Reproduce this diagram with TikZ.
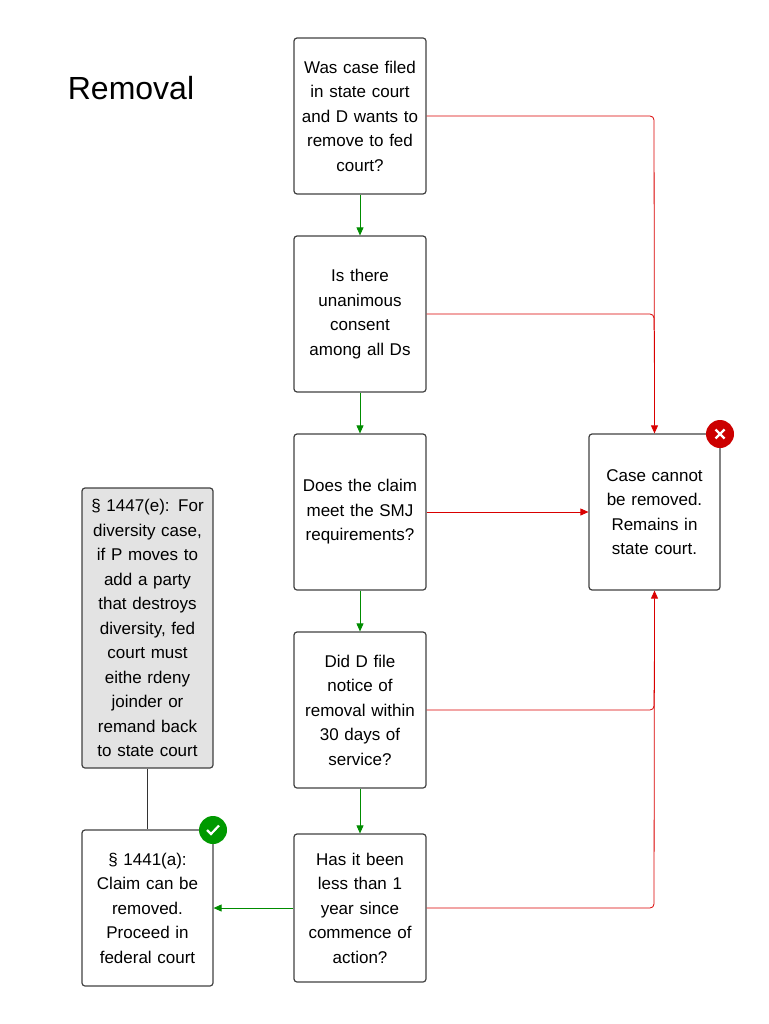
\documentclass[tikz,border=0pt]{standalone}
\usepackage{fontspec}
\setmainfont{Liberation Sans}
\usetikzlibrary{arrows.meta}
\begin{document}
\begin{tikzpicture}[x=1pt,y=-1pt,
 box/.style={draw=black!75,line width=1.2pt,rounded corners=3pt,minimum width=132pt,minimum height=156pt,align=center,font=\fontsize{17}{24.5}\selectfont,inner sep=2pt,text width=124pt},
 g/.style={draw=green!55!black,line width=0.8pt,-{Triangle[length=8pt,width=7pt]}},
 r/.style={draw=red!85!black,line width=0.8pt,rounded corners=4pt},
 ra/.style={r,-{Triangle[length=8pt,width=7pt]}}]
\useasboundingbox (0,0) rectangle (768,1024);
\node[font=\fontsize{32}{36}\selectfont] (t) at (131,88) {Removal};
\node[box] (b1) at (360,116) {Was case filed\\in state court\\and D wants to\\remove to fed\\court?};
\node[box] (b2) at (360,314) {Is there\\unanimous\\consent\\among all Ds};
\node[box] (b3) at (360,512) {Does the claim\\meet the SMJ\\requirements?};
\node[box] (b4) at (360,710) {Did D file\\notice of\\removal within\\30 days of\\service?};
\node[box,minimum height=148pt] (b5) at (360,908) {Has it been\\less than 1\\year since\\commence of\\action?};
\node[box,minimum width=131pt] (nr) at (654.5,512) {Case cannot\\be removed.\\Remains in\\state court.};
\node[box,minimum width=131pt,minimum height=280pt,fill=gray!22] (gr) at (147.5,628) {§ 1447(e): For\\diversity case,\\if P moves to\\add a party\\that destroys\\diversity, fed\\court must\\eithe rdeny\\joinder or\\remand back\\to state court};
\node[box,minimum width=131pt] (ok) at (147.5,908) {§ 1441(a):\\Claim can be\\removed.\\Proceed in\\federal court};
\draw[g] (b1) -- (b2);
\draw[g] (b2) -- (b3);
\draw[g] (b3) -- (b4);
\draw[g] (b4) -- (b5);
\draw[g] (b5) -- (ok);
\draw[black!80,line width=0.8pt] (gr) -- (ok);
\coordinate (c1) at (654,116);
\draw[ra] (b1.east) -- (c1) -- (nr.north);
\draw[r] (b2.east) -- (654,314) -- (654,330);
\draw[ra] (b3) -- (nr);
\draw[r] (b4.east) -- (654,710) -- (654,690);
\draw[ra] (b5.east) -- (654,908) -- (nr.south);
\node[circle,fill=red!80!black,minimum size=28pt,inner sep=0] (x) at (720,434) {};
\draw[white,line width=2.2pt] (x.center)+(-4.5,-4.5) -- +(4.5,4.5) (x.center)+(-4.5,4.5) -- +(4.5,-4.5);
\node[circle,fill=green!60!black,minimum size=28pt,inner sep=0] (v) at (213,830) {};
\draw[white,line width=2.2pt] (v.center)+(-6,0) -- +(-2,4) -- +(6,-4.5);
\end{tikzpicture}
\end{document}
